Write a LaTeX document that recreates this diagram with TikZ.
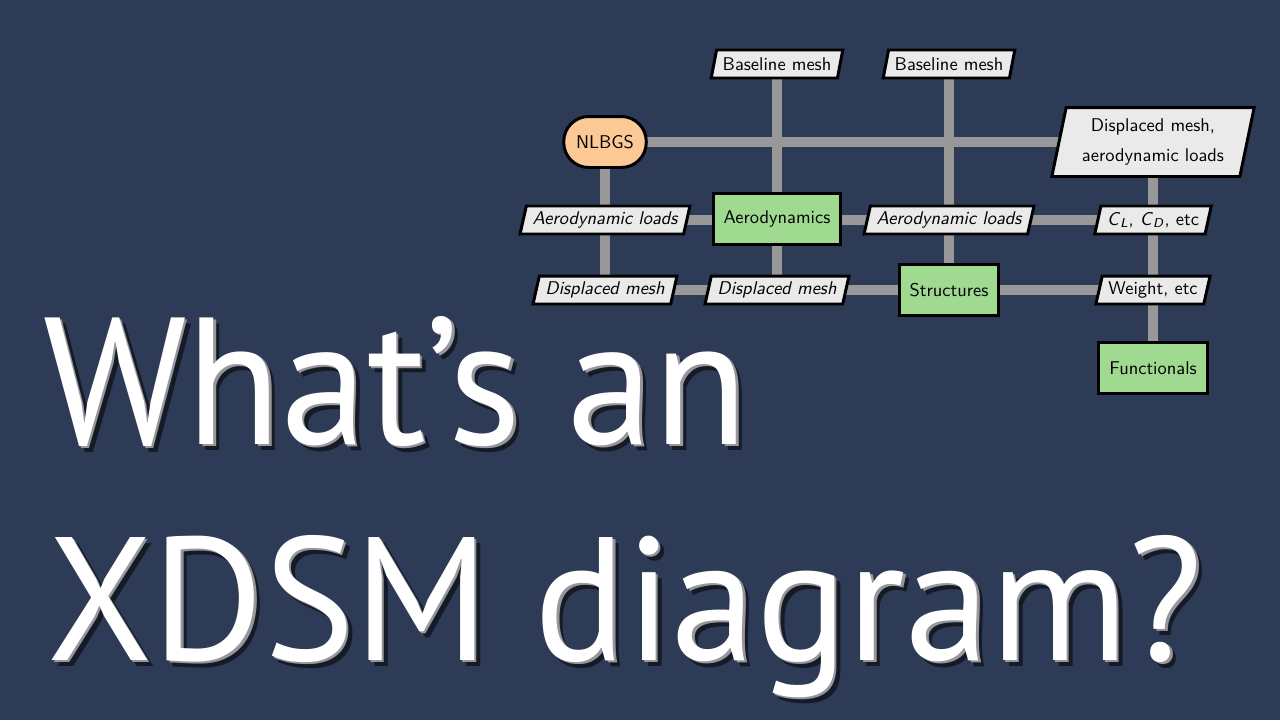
\documentclass[tikz,border=0pt]{standalone}
\usepackage{graphicx}
\usepackage{fontspec}
\newfontfamily\titlefont{PT Sans}
\usetikzlibrary{shapes.geometric,backgrounds}
\definecolor{bgblue}{RGB}{46,59,86}
\definecolor{datagrey}{RGB}{234,234,234}
\definecolor{compgreen}{RGB}{160,218,145}
\definecolor{driverorange}{RGB}{252,201,150}
\definecolor{linegrey}{RGB}{152,152,152}
\definecolor{titleedge}{RGB}{150,150,155}
\begin{document}
\begin{tikzpicture}[x=0.02cm, y=-0.02cm,
	every node/.style={font=\sffamily\fontsize{10.5}{13}\selectfont},
	datanode/.style={draw=black, line width=1.7pt, fill=datagrey, shape=trapezium, trapezium left angle=75, trapezium right angle=105, trapezium stretches body, minimum height=0.56cm, inner xsep=3.5pt, inner ysep=2pt},
	compnode/.style={draw=black, line width=1.7pt, fill=compgreen, minimum height=1.02cm, inner xsep=6pt},
	drivernode/.style={draw=black, line width=1.7pt, fill=driverorange, rounded corners=0.5cm, minimum height=1.02cm, inner xsep=7pt},
	dataline/.style={draw=linegrey, line width=6.2pt}]
		\useasboundingbox (0, 0) rectangle (1280, 720);
		\node[drivernode] (nlbgs) at (605, 142) {NLBGS};
		\node[datanode] (base1) at (777, 64) {Baseline mesh};
		\node[datanode] (base2) at (949, 64) {Baseline mesh};
		\node[datanode, align=center, font=\sffamily\fontsize{10.5}{17}\selectfont, minimum height=1.38cm, inner xsep=9pt] (dispaero) at (1153, 142) {Displaced mesh,\\aerodynamic loads};
		\node[datanode, font=\sffamily\itshape\fontsize{10.5}{13}\selectfont] (aload1) at (605, 220) {Aerodynamic loads};
		\node[compnode] (aero) at (777, 219) {Aerodynamics};
		\node[datanode, font=\sffamily\itshape\fontsize{10.5}{13}\selectfont] (aload2) at (949, 220) {Aerodynamic loads};
		\node[datanode] (clcd) at (1153, 220) {\textit{C}\textsubscript{\textit{L}}, \textit{C}\textsubscript{\textit{D}}, etc};
		\node[datanode, font=\sffamily\itshape\fontsize{10.5}{13}\selectfont] (dmesh1) at (605, 290) {Displaced mesh};
		\node[datanode, font=\sffamily\itshape\fontsize{10.5}{13}\selectfont] (dmesh2) at (777, 290) {Displaced mesh};
		\node[compnode] (struct) at (949, 290) {Structures};
		\node[datanode] (weight) at (1153, 290) {Weight, etc};
		\node[compnode] (func) at (1153, 368) {Functionals};
		\begin{scope}[on background layer]
			\fill[bgblue] (0, 0) rectangle (1280, 720);
			\draw[dataline] (nlbgs.center) -- (dispaero.center);
			\draw[dataline] (aload1.center) -- (clcd.center);
			\draw[dataline] (dmesh1.center) -- (weight.center);
			\draw[dataline] (nlbgs.center) -- (dmesh1.center);
			\draw[dataline] (base1.center) -- (dmesh2.center);
			\draw[dataline] (base2.center) -- (struct.center);
			\draw[dataline] (dispaero.center) -- (func.center);
		\end{scope}
		\foreach \d/\c/\o [count=\i] in {6/black/0.55, 2.5/titleedge/1, 0/white/1} {
			\node[anchor=base west, inner sep=0pt, text=\c, text opacity=\o] (whats\i) at (43+\d, 444+\d) {\resizebox{14.1cm}{2.56cm}{\titlefont What’s an}};
			\node[anchor=base west, inner sep=0pt, text=\c, text opacity=\o] (xdsm\i) at (47+\d, 660+\d) {\resizebox{23.1cm}{2.5cm}{\titlefont XDSM diagram?}};
		}
\end{tikzpicture}
\end{document}
